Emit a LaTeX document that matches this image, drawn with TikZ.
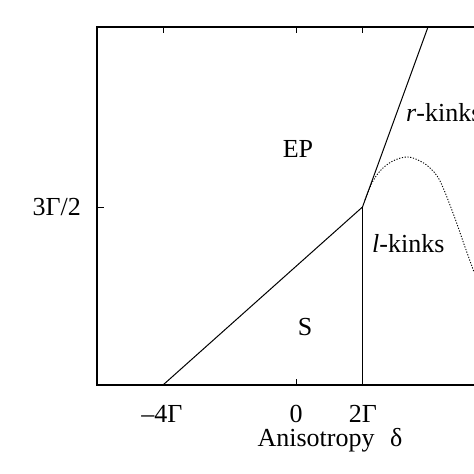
\documentclass[tikz,border=0pt]{standalone}
\usepackage{fontspec}
\setmainfont{Liberation Serif}
\begin{document}
\begin{tikzpicture}[x=1pt,y=-1pt,
  lbl/.style={inner sep=0pt,font=\fontsize{26}{31}\selectfont},
  frame/.style={line width=1.4pt},
  bnd/.style={line width=1pt},
  tick/.style={line width=1pt}]
\useasboundingbox (0,0) rectangle (474,474);
\clip (0,0) rectangle (474,474);
% frame
\coordinate (TL) at (97,27);
\coordinate (BL) at (97,385);
\coordinate (TR) at (480,27);
\coordinate (BR) at (480,385);
\draw[frame] (TR) -- (TL) -- (BL) -- (BR);
% ticks
\draw[tick] (163,27) -- (163,33);
\draw[tick] (296,27) -- (296,33);
\draw[tick] (362.5,27) -- (362.5,33);
\draw[tick] (296,385) -- (296,379);
\draw[tick] (97,207) -- (104,207);
% boundaries
\coordinate (A) at (163,385);
\coordinate (P) at (362.5,207);
\coordinate (B) at (362.5,385);
\coordinate (C) at (428,27);
\draw[bnd] (A) -- (P);
\draw[line width=1.3pt] (P) -- (B);
\draw[bnd] (P) -- (C);
% dotted curve
\draw[line width=0.9pt,dash pattern=on 1.2pt off 1.6pt] plot[smooth,tension=0.6] coordinates {(365,200) (373,181) (383,168) (395,160) (408,157) (420,161) (430,168) (440,181) (453,213) (465,247) (474,272)};
% labels
\node[lbl] (ep) at (298,149) {EP};
\node[lbl,anchor=west] (rk) at (406,113) {\textit{r}-kinks};
\node[lbl,anchor=west] (lk) at (372,244) {\textit{l}-kinks};
\node[lbl] (s) at (305,327) {S};
\node[lbl,anchor=east] (yt) at (81,207) {3Γ/2};
\node[lbl] (x1) at (162,414) {–4Γ};
\node[lbl] (x2) at (296,414) {0};
\node[lbl] (x3) at (363,414) {2Γ};
\node[lbl] (xl) at (330,440) {Anisotropy\hspace{0.6em}δ};
\end{tikzpicture}
\end{document}
